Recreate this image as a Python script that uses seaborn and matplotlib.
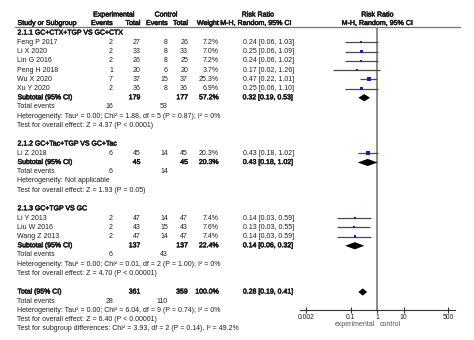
import matplotlib
matplotlib.use("Agg")
import matplotlib.pyplot as plt
import matplotlib.patheffects as pe
import seaborn as sns
import pandas as pd
import numpy as np

# ---------------- data ----------------
subgroups = ["2.1.1 GC+CTX+TGP VS GC+CTX", "2.1.2 GC+Tac+TGP VS GC+Tac", "2.1.3 GC+TGP VS GC"]
studies = ["Feng P 2017", "Li X 2020", "Lin G 2016", "Peng H 2018", "Wu X 2020", "Xu Y 2020",
           "Li Z 2018",
           "Li Y 2013", "Liu W 2016", "Wang Z 2013"]
study_group = [0, 0, 0, 0, 0, 0, 1, 2, 2, 2]
exp_events = [2, 2, 2, 1, 7, 2, 6, 2, 2, 2]
exp_total = [27, 33, 26, 20, 37, 36, 45, 47, 43, 47]
ctl_events = [8, 8, 8, 6, 15, 8, 14, 14, 15, 14]
ctl_total = [26, 33, 25, 20, 37, 36, 45, 47, 43, 47]
weights = [7.2, 7.0, 7.2, 3.7, 25.3, 6.9, 20.3, 7.4, 7.6, 7.4]
rr = [0.24, 0.25, 0.24, 0.17, 0.47, 0.25, 0.43, 0.14, 0.13, 0.14]
rr_lo = [0.06, 0.06, 0.06, 0.02, 0.22, 0.06, 0.18, 0.03, 0.03, 0.03]
rr_hi = [1.03, 1.09, 1.02, 1.26, 1.01, 1.10, 1.02, 0.59, 0.55, 0.59]

sub_exp_total = [179, 45, 137]
sub_ctl_total = [177, 45, 137]
sub_weight = [57.2, 20.3, 22.4]
sub_rr = [0.32, 0.43, 0.14]
sub_lo = [0.19, 0.18, 0.06]
sub_hi = [0.53, 1.02, 0.32]
sub_exp_events = [16, 6, 6]
sub_ctl_events = [53, 14, 43]
sub_het = ["Heterogeneity: Tau² = 0.00; Chi² = 1.88, df = 5 (P = 0.87); I² = 0%",
           "Heterogeneity: Not applicable",
           "Heterogeneity: Tau² = 0.00; Chi² = 0.01, df = 2 (P = 1.00); I² = 0%"]
sub_test = ["Test for overall effect: Z = 4.37 (P < 0.0001)",
            "Test for overall effect: Z = 1.93 (P = 0.05)",
            "Test for overall effect: Z = 4.70 (P < 0.00001)"]

tot_exp_total, tot_ctl_total, tot_weight = 361, 359, 100.0
tot_rr, tot_lo, tot_hi = 0.28, 0.19, 0.41
tot_exp_events, tot_ctl_events = 28, 110
tot_lines = ["Heterogeneity: Tau² = 0.00; Chi² = 6.04, df = 9 (P = 0.74); I² = 0%",
             "Test for overall effect: Z = 6.40 (P < 0.00001)",
             "Test for subgroup differences: Chi² = 3.93, df = 2 (P = 0.14), I² = 49.2%"]

axis_ticks = [0.002, 0.1, 1, 10, 500]
axis_ticklabels = ["0.002", "0.1", "1", "10", "500"]

# ---------------- style ----------------
sns.set_theme(style="white")
plt.rcParams['font.family'] = ['Liberation Sans', 'DejaVu Sans']
FS = 5.0
FSB = 5.0
FSH = 5.1
TXT = "#1e1e1e"

W, H = 474, 340
fig = plt.figure(figsize=(W / 100, H / 100), dpi=100)
fig.patch.set_facecolor("white")
axt = fig.add_axes([0, 0, 1, 1])
axt.set_xlim(0, W)
axt.set_ylim(H, 0)
axt.axis("off")

# forest axes geometry (pixels)
FX0, FX1, FY0, FY1 = 300, 455, 27, 310
PIVOT, DEC = 377.3, 26.3
axf = fig.add_axes([FX0 / W, (H - FY1) / H, (FX1 - FX0) / W, (FY1 - FY0) / H])
axf.set_facecolor("none")
axf.set_xscale("log")
axf.set_xlim(10 ** ((FX0 - PIVOT) / DEC), 10 ** ((FX1 - PIVOT) / DEC))
axf.set_ylim(FY1, FY0)

def row_y(i):
    return 33 + (i - 2) * 9.25

# columns
X_NAME = 17.5
X_EE, X_ET, X_CE, X_CT, X_W, X_RR = 113, 140.5, 168, 188, 219, 294

def t(x, y, s, ha="left", bold=False, color=TXT, size=None):
    if size is None:
        size = FSB if bold else FS
    txt = axt.text(x, y, s, ha=ha, va="center", fontsize=size, color=color)
    if bold:
        txt.set_path_effects([pe.withStroke(linewidth=0.4, foreground=color)])

# header
t(114, 15, "Experimental", ha="center", bold=True, size=FSH)
t(166, 15, "Control", ha="center", bold=True, size=FSH)
t(258, 15, "Risk Ratio", ha="center", bold=True, size=FSH)
t(377.5, 15, "Risk Ratio", ha="center", bold=True, size=FSH)
t(X_NAME, 23.5, "Study or Subgroup", bold=True, size=FSH)
t(X_EE, 23.5, "Events", ha="right", bold=True, size=FSH)
t(X_ET, 23.5, "Total", ha="right", bold=True, size=FSH)
t(X_CE, 23.5, "Events", ha="right", bold=True, size=FSH)
t(X_CT, 23.5, "Total", ha="right", bold=True, size=FSH)
t(X_W, 23.5, "Weight", ha="right", bold=True, size=FSH)
t(292, 23.5, "M-H, Random, 95% CI", ha="right", bold=True, size=FSH)
t(377.5, 23.5, "M-H, Random, 95% CI", ha="center", bold=True, size=FSH)
axt.plot([15, 460], [27, 27], color="#777777", lw=0.9)

# layout rows
group_start = [2, 14, 21]
study_rows = []
sub_rows = []
for g, start in enumerate(group_start):
    t(X_NAME, row_y(start), subgroups[g], bold=True)
    idx = [k for k, gg in enumerate(study_group) if gg == g]
    r = start + 1
    for k in idx:
        y = row_y(r)
        study_rows.append(y)
        t(X_NAME, y, studies[k])
        t(X_EE, y, str(exp_events[k]), ha="right")
        t(X_ET, y, str(exp_total[k]), ha="right")
        t(X_CE, y, str(ctl_events[k]), ha="right")
        t(X_CT, y, str(ctl_total[k]), ha="right")
        t(X_W, y, f"{weights[k]:.1f}%", ha="right")
        t(X_RR, y, f"{rr[k]:.2f} [{rr_lo[k]:.2f}, {rr_hi[k]:.2f}]", ha="right")
        r += 1
    y = row_y(r)
    sub_rows.append(y)
    t(X_NAME, y, "Subtotal (95% CI)", bold=True)
    t(X_ET, y, str(sub_exp_total[g]), ha="right", bold=True)
    t(X_CT, y, str(sub_ctl_total[g]), ha="right", bold=True)
    t(X_W, y, f"{sub_weight[g]:.1f}%", ha="right", bold=True)
    t(X_RR, y, f"{sub_rr[g]:.2f} [{sub_lo[g]:.2f}, {sub_hi[g]:.2f}]", ha="right", bold=True)
    r += 1
    y = row_y(r)
    t(X_NAME, y, "Total events")
    t(X_EE, y, str(sub_exp_events[g]), ha="right")
    t(X_CE, y, str(sub_ctl_events[g]), ha="right")
    t(X_NAME, row_y(r + 1), sub_het[g])
    t(X_NAME, row_y(r + 2), sub_test[g])

# overall
y = row_y(30)
t(X_NAME, y, "Total (95% CI)", bold=True)
t(X_ET, y, str(tot_exp_total), ha="right", bold=True)
t(X_CT, y, str(tot_ctl_total), ha="right", bold=True)
t(X_W, y, f"{tot_weight:.1f}%", ha="right", bold=True)
t(X_RR, y, f"{tot_rr:.2f} [{tot_lo:.2f}, {tot_hi:.2f}]", ha="right", bold=True)
y = row_y(31)
t(X_NAME, y, "Total events")
t(X_EE, y, str(tot_exp_events), ha="right")
t(X_CE, y, str(tot_ctl_events), ha="right")
for j, line in enumerate(tot_lines):
    t(X_NAME, row_y(32 + j), line)

# ---------------- forest ----------------
axf.axvline(1, color="#8a8a8a", lw=1.4, zorder=1)
df = pd.DataFrame({"rr": rr, "y": study_rows, "w": weights})
sns.scatterplot(data=df, x="rr", y="y", size="w", sizes=(0, 9.0), size_norm=(0, 25.3),
                marker="s", color="#1a1acc", linewidth=0, legend=False, ax=axf, zorder=3)
for yy, lo, hi in zip(study_rows, rr_lo, rr_hi):
    axf.plot([lo, hi], [yy, yy], color="#4a4a4a", lw=0.9, zorder=2, solid_capstyle="butt")
axf.set_ylim(FY1, FY0)

def diamond(est, lo, hi, y, h=3.6):
    axf.fill([lo, est, hi, est], [y, y - h, y, y + h], color="black", lw=0, zorder=4)

for g in range(3):
    diamond(sub_rr[g], sub_lo[g], sub_hi[g], sub_rows[g])
diamond(tot_rr, tot_lo, tot_hi, row_y(30))

for s in ["top", "right", "left"]:
    axf.spines[s].set_visible(False)
axf.spines["bottom"].set_color("#333333")
axf.spines["bottom"].set_linewidth(0.8)
axf.set_xticks(axis_ticks)
axf.set_xticklabels(axis_ticklabels)
axf.minorticks_off()
axf.tick_params(axis="x", direction="inout", length=4, width=0.8, color="#333333",
                labelsize=4.9, labelcolor=TXT, pad=1, bottom=True)
axf.set_yticks([])
axf.set_xlabel("")
axf.set_ylabel("")

t(375, 325, "experimental", ha="right", color="#555555")
t(380, 325, "control", ha="left", color="#555555")

fig.savefig("out.png", dpi=100, facecolor="white")
